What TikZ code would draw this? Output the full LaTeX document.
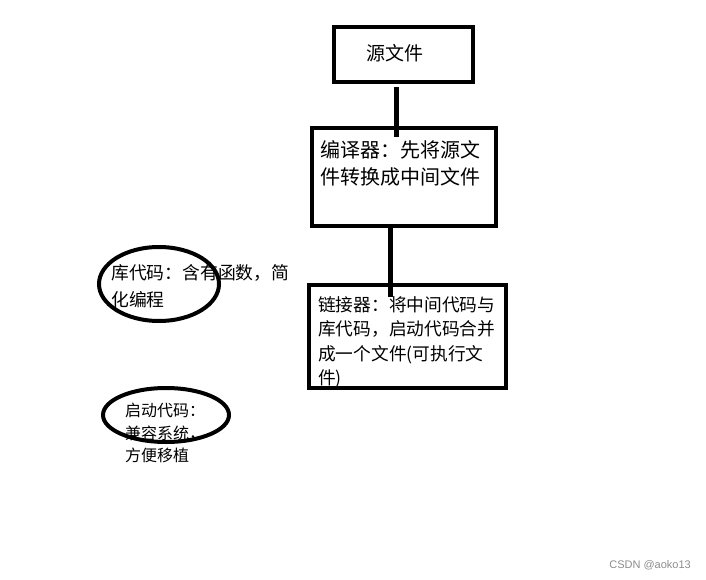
\documentclass[tikz,border=0pt]{standalone}
\usepackage{fontspec}
\newfontfamily\cjk{Noto Sans CJK SC}
\setsansfont{Liberation Sans}
\begin{document}
\begin{tikzpicture}[x=1pt,y=1pt,
  box/.style={draw=black,line width=4.5pt,inner sep=0pt},
  conn/.style={draw=black,line width=5pt},
  txt/.style={anchor=north west,align=left,inner sep=0pt,text=black}]
\useasboundingbox (0,0) rectangle (706,-580);
% source box
\node[box,minimum width=139pt,minimum height=55pt] (src) at (403.5,-54.5) {};
\node[inner sep=0pt,font=\cjk\fontsize{19}{24}\selectfont] (srct) at (395,-53) {源文件};
% compiler box
\node[box,minimum width=184pt,minimum height=98pt] (comp) at (404,-177) {};
\node[txt,font=\cjk\fontsize{20}{27}\selectfont] (compt) at (320,-140) {编译器：先将源文\\件转换成中间文件};
% linker box
\node[box,minimum width=197pt,minimum height=103pt] (link) at (407.5,-336.5) {};
\node[txt,font=\cjk\fontsize{17.7}{24.5}\selectfont] (linkt) at (318,-296) {链接器：将中间代码与\\库代码，启动代码合并\\成一个文件(可执行文\\件)};
% connectors
\coordinate (c1s) at (396,-87);
\coordinate (c1e) at (396,-137);
\draw[conn] (c1s) -- (c1e);
\coordinate (c2s) at (390,-226);
\coordinate (c2e) at (390,-297);
\draw[conn] (c2s) -- (c2e);
% ellipses
\draw[black,line width=4pt] (159,-284) ellipse [x radius=60pt,y radius=37pt];
\node[txt,font=\cjk\fontsize{17.8}{27}\selectfont] (libt) at (111,-264) {库代码：含有函数，简\\化编程};
\draw[black,line width=4pt] (166,-415) ellipse [x radius=63pt,y radius=27pt];
\node[txt,font=\cjk\fontsize{16}{22.5}\selectfont] (startt) at (125,-403) {启动代码：\\兼容系统，\\方便移植};
% watermark
\node[anchor=east,inner sep=0pt,text=black!45,font=\sffamily\fontsize{11}{13}\selectfont] (wm) at (691,-565) {CSDN @aoko13};
\end{tikzpicture}
\end{document}
